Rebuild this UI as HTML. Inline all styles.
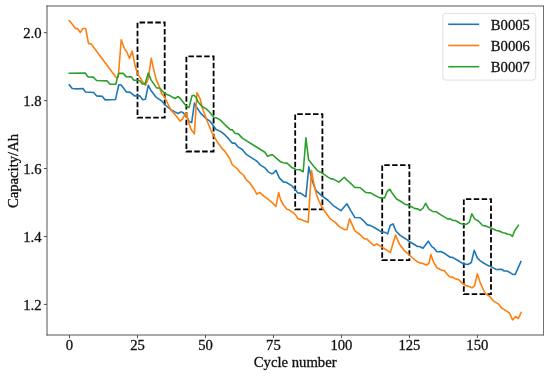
<!DOCTYPE html>
<html><head><meta charset="utf-8"><title>Capacity vs cycle</title>
<style>
html,body{margin:0;padding:0;background:#fff;}
body{width:550px;height:376px;overflow:hidden;}
svg{display:block;}
text{font-family:"Liberation Serif", "Times New Roman", serif;font-size:14.7px;fill:#111;stroke:#111;stroke-width:0.3px;}
</style></head><body>
<svg width="550" height="376" viewBox="0 0 550 376">
<rect x="0" y="0" width="550" height="376" fill="#fff"/>

<path d="M137.5,117.6 L164.7,117.6 L164.7,22.5 L137.5,22.5 Z" fill="none" stroke="#000" stroke-width="1.8" stroke-dasharray="5.5 2.386"/>
<path d="M186.4,151.5 L213.6,151.5 L213.6,56.4 L186.4,56.4 Z" fill="none" stroke="#000" stroke-width="1.8" stroke-dasharray="5.5 2.386"/>
<path d="M295.2,209.3 L322.4,209.3 L322.4,114.2 L295.2,114.2 Z" fill="none" stroke="#000" stroke-width="1.8" stroke-dasharray="5.5 2.386"/>
<path d="M382.2,260.2 L409.4,260.2 L409.4,165.1 L382.2,165.1 Z" fill="none" stroke="#000" stroke-width="1.8" stroke-dasharray="5.5 2.386"/>
<path d="M463.8,294.2 L491.0,294.2 L491.0,199.1 L463.8,199.1 Z" fill="none" stroke="#000" stroke-width="1.8" stroke-dasharray="5.5 2.386"/>
<polyline points="69.3,84.85 72.2,88.55 77.3,88.85 82.9,88.55 85.5,91.95 93.6,92.45 96.5,95.85 102.2,96.35 105.0,99.85 115.5,99.55 118.8,84.75 121.2,85.05 126.3,91.85 130.3,92.35 134.5,95.85 139.7,95.85 142.7,99.65 145.4,99.25 148.3,85.25 151.0,90.55 156.3,97.45 161.6,100.95 165.6,105.25 170.6,109.45 174.9,111.85 178.2,113.55 180.9,111.85 182.7,112.45 186.4,115.85 189.3,121.75 191.7,122.45 194.4,103.15 196.6,107.15 200.6,113.15 205.9,118.45 210.2,121.45 215.9,129.25 221.2,131.85 225.0,134.95 229.0,139.15 232.3,143.15 235.0,143.15 238.3,147.15 242.3,149.55 246.3,154.45 256.9,161.25 260.2,164.85 264.9,167.85 268.2,171.85 271.5,173.65 273.0,173.45 276.0,170.35 279.3,177.85 283.3,181.85 286.6,182.55 291.9,185.85 295.3,189.85 297.9,192.95 300.6,193.15 305.9,196.85 308.8,166.85 311.9,179.85 315.2,189.25 317.7,192.15 322.3,196.15 328.0,200.25 333.3,205.55 340.9,210.65 346.9,203.75 350.9,210.85 354.9,217.55 360.2,217.75 363.3,220.55 367.3,224.85 370.6,225.65 376.0,228.55 381.3,231.85 384.6,232.25 387.7,233.85 390.3,225.25 393.0,223.85 395.9,230.95 399.9,235.15 405.1,238.45 410.2,242.05 417.6,246.45 419.6,246.45 423.0,248.25 428.3,241.15 431.6,246.45 433.6,247.85 436.9,251.75 440.9,251.55 444.9,253.55 450.1,257.25 452.5,257.35 458.0,260.55 463.3,263.85 468.0,264.55 471.3,262.55 474.2,250.35 477.3,257.85 480.4,260.95 484.0,263.25 488.6,265.85 490.6,266.25 493.3,267.85 496.4,269.45 501.4,269.25 504.2,270.95 506.8,271.05 509.2,272.05 512.8,274.45 515.2,274.45 520.9,261.65" fill="none" stroke="#1f77b4" stroke-width="1.6" stroke-linejoin="round" stroke-linecap="square"/>
<polyline points="69.4,20.75 75.4,28.35 77.9,28.85 80.3,32.45 82.7,28.55 85.7,28.55 88.5,43.35 91.0,43.85 116.3,77.85 118.3,77.05 121.2,39.75 124.3,48.35 126.7,51.75 129.5,58.45 132.2,51.05 135.0,65.55 137.6,73.95 140.3,77.85 143.6,83.15 145.6,85.15 148.3,78.45 151.2,58.25 153.6,69.15 156.3,79.85 159.6,87.15 161.6,93.85 163.6,95.65 167.6,103.25 170.9,109.85 175.6,115.15 180.0,121.05 182.3,119.25 186.0,112.75 188.6,122.55 191.3,129.85 194.4,133.85 197.0,92.55 200.0,98.55 202.6,108.45 206.6,119.75 211.9,132.55 217.2,141.85 222.6,149.15 225.0,151.45 229.7,158.45 232.3,164.75 237.0,168.55 239.6,171.85 243.6,175.25 246.3,179.85 249.6,182.55 253.6,188.45 256.9,194.05 259.8,192.45 264.2,196.45 269.5,200.45 272.7,203.15 276.0,206.45 278.6,192.55 280.6,199.85 283.6,205.25 287.0,209.35 289.3,210.05 293.0,212.55 296.0,215.55 298.0,218.85 301.3,219.55 303.9,220.85 308.2,222.15 311.5,170.55 313.9,183.85 316.5,194.55 318.6,200.25 322.8,208.85 330.2,218.85 335.0,222.15 339.6,226.85 344.9,229.75 346.9,229.55 349.6,218.85 354.9,230.85 360.2,234.75 364.1,238.65 366.6,238.95 370.6,242.55 374.0,245.55 376.6,243.85 381.9,247.15 386.6,250.05 390.3,252.45 395.6,234.95 399.2,243.85 403.9,250.05 410.2,255.75 417.0,261.55 419.6,262.85 422.3,263.25 426.3,265.05 428.9,263.45 430.9,254.55 433.6,262.15 436.9,267.75 442.2,270.45 444.2,270.45 448.9,276.15 450.9,277.45 452.7,277.15 456.0,279.15 458.6,279.55 463.3,284.05 466.6,285.85 469.3,286.45 471.9,287.85 474.6,285.85 477.3,273.85 479.9,281.85 482.9,288.75 485.5,293.75 489.3,295.95 493.3,300.85 498.6,304.15 501.9,308.15 509.3,312.85 512.6,319.85 515.6,316.45 518.3,318.55 521.2,312.45" fill="none" stroke="#ff7f0e" stroke-width="1.6" stroke-linejoin="round" stroke-linecap="square"/>
<polyline points="69.3,73.25 85.3,73.05 87.9,76.85 93.3,77.15 96.6,80.45 107.0,80.85 110.0,84.25 115.7,84.25 118.6,73.35 123.2,73.35 126.2,76.65 131.2,76.85 133.9,80.15 139.7,80.45 142.3,84.05 145.0,84.05 148.3,72.95 151.0,79.85 156.6,87.85 159.6,88.05 164.6,93.55 170.2,95.85 174.9,98.55 178.2,96.55 180.9,99.15 184.0,103.15 186.4,106.15 189.0,107.45 192.0,95.85 194.0,95.25 196.0,97.25 198.0,101.85 202.0,106.55 206.6,109.15 209.9,112.45 213.9,117.55 216.6,117.85 220.5,120.15 225.2,125.05 230.3,129.65 232.3,129.85 235.0,133.25 238.3,133.85 242.3,138.15 264.9,152.25 267.6,156.25 270.2,155.15 272.5,154.75 276.0,157.85 280.6,161.85 283.3,162.75 287.0,163.15 291.9,167.55 295.9,169.55 299.9,169.75 303.2,171.75 305.9,137.85 308.6,159.85 313.9,166.45 317.7,170.85 323.0,173.55 327.6,176.85 331.0,178.85 333.0,178.85 338.9,182.15 344.3,177.25 346.9,180.15 350.2,182.85 354.9,187.55 357.6,187.55 360.2,187.75 362.7,189.85 366.0,192.55 370.6,192.85 374.6,195.25 379.9,197.85 384.6,197.85 387.3,191.25 389.9,189.25 392.6,193.85 396.6,198.95 402.6,202.55 405.0,204.25 407.7,204.85 411.0,206.45 415.0,208.65 417.6,208.85 420.3,210.45 423.0,208.25 425.6,203.25 428.7,208.85 432.9,211.55 436.2,211.75 440.9,214.85 447.6,218.85 450.2,218.85 453.1,220.45 455.3,220.45 460.6,223.55 464.0,224.45 466.6,224.15 469.3,222.15 471.9,213.85 474.6,218.85 478.6,221.25 482.7,225.55 485.2,225.85 490.0,227.85 496.6,230.45 498.6,230.85 503.0,232.75 505.6,233.25 507.6,234.25 510.0,234.45 512.4,236.35 514.8,230.45 518.4,225.25" fill="none" stroke="#2ca02c" stroke-width="1.6" stroke-linejoin="round" stroke-linecap="square"/>
<line x1="47.0" y1="5.5" x2="47.0" y2="335.5" stroke="#555" stroke-width="1"/>
<line x1="46.5" y1="6.0" x2="544.0" y2="6.0" stroke="#555" stroke-width="1"/>
<line x1="46.5" y1="335.0" x2="544.0" y2="335.0" stroke="#555" stroke-width="1"/>
<line x1="543.5" y1="5.5" x2="543.5" y2="335.5" stroke="#707070" stroke-width="1"/>
<line x1="69.50" y1="335.0" x2="69.50" y2="338.1" stroke="#505050" stroke-width="1"/>
<text x="69.50" y="350.0" text-anchor="middle">0</text>
<line x1="137.48" y1="335.0" x2="137.48" y2="338.1" stroke="#505050" stroke-width="1"/>
<text x="137.48" y="350.0" text-anchor="middle">25</text>
<line x1="205.47" y1="335.0" x2="205.47" y2="338.1" stroke="#505050" stroke-width="1"/>
<text x="205.47" y="350.0" text-anchor="middle">50</text>
<line x1="273.45" y1="335.0" x2="273.45" y2="338.1" stroke="#505050" stroke-width="1"/>
<text x="273.45" y="350.0" text-anchor="middle">75</text>
<line x1="341.43" y1="335.0" x2="341.43" y2="338.1" stroke="#505050" stroke-width="1"/>
<text x="341.43" y="350.0" text-anchor="middle">100</text>
<line x1="409.41" y1="335.0" x2="409.41" y2="338.1" stroke="#505050" stroke-width="1"/>
<text x="409.41" y="350.0" text-anchor="middle">125</text>
<line x1="477.39" y1="335.0" x2="477.39" y2="338.1" stroke="#505050" stroke-width="1"/>
<text x="477.39" y="350.0" text-anchor="middle">150</text>
<line x1="43.9" y1="32.65" x2="47.0" y2="32.65" stroke="#505050" stroke-width="1"/>
<text x="41.6" y="38.45" text-anchor="end">2.0</text>
<line x1="43.9" y1="100.59" x2="47.0" y2="100.59" stroke="#505050" stroke-width="1"/>
<text x="41.6" y="106.39" text-anchor="end">1.8</text>
<line x1="43.9" y1="168.53" x2="47.0" y2="168.53" stroke="#505050" stroke-width="1"/>
<text x="41.6" y="174.33" text-anchor="end">1.6</text>
<line x1="43.9" y1="236.47" x2="47.0" y2="236.47" stroke="#505050" stroke-width="1"/>
<text x="41.6" y="242.27" text-anchor="end">1.4</text>
<line x1="43.9" y1="304.41" x2="47.0" y2="304.41" stroke="#505050" stroke-width="1"/>
<text x="41.6" y="310.21" text-anchor="end">1.2</text>
<text x="295.2" y="366.8" text-anchor="middle">Cycle number</text>
<text transform="translate(17.6,171.0) rotate(-90)" x="0" y="0" text-anchor="middle">Capacity/Ah</text>
<rect x="442.8" y="13.4" width="92.9" height="66.7" rx="3" ry="3" fill="#fff" fill-opacity="0.8" stroke="#e0e0e0" stroke-width="1"/>
<line x1="448.2" y1="24.3" x2="479.2" y2="24.3" stroke="#1f77b4" stroke-width="1.6"/>
<text x="490.8" y="29.9">B0005</text>
<line x1="448.2" y1="45.5" x2="479.2" y2="45.5" stroke="#ff7f0e" stroke-width="1.6"/>
<text x="490.8" y="51.1">B0006</text>
<line x1="448.2" y1="66.7" x2="479.2" y2="66.7" stroke="#2ca02c" stroke-width="1.6"/>
<text x="490.8" y="72.3">B0007</text>
</svg>
</body></html>
